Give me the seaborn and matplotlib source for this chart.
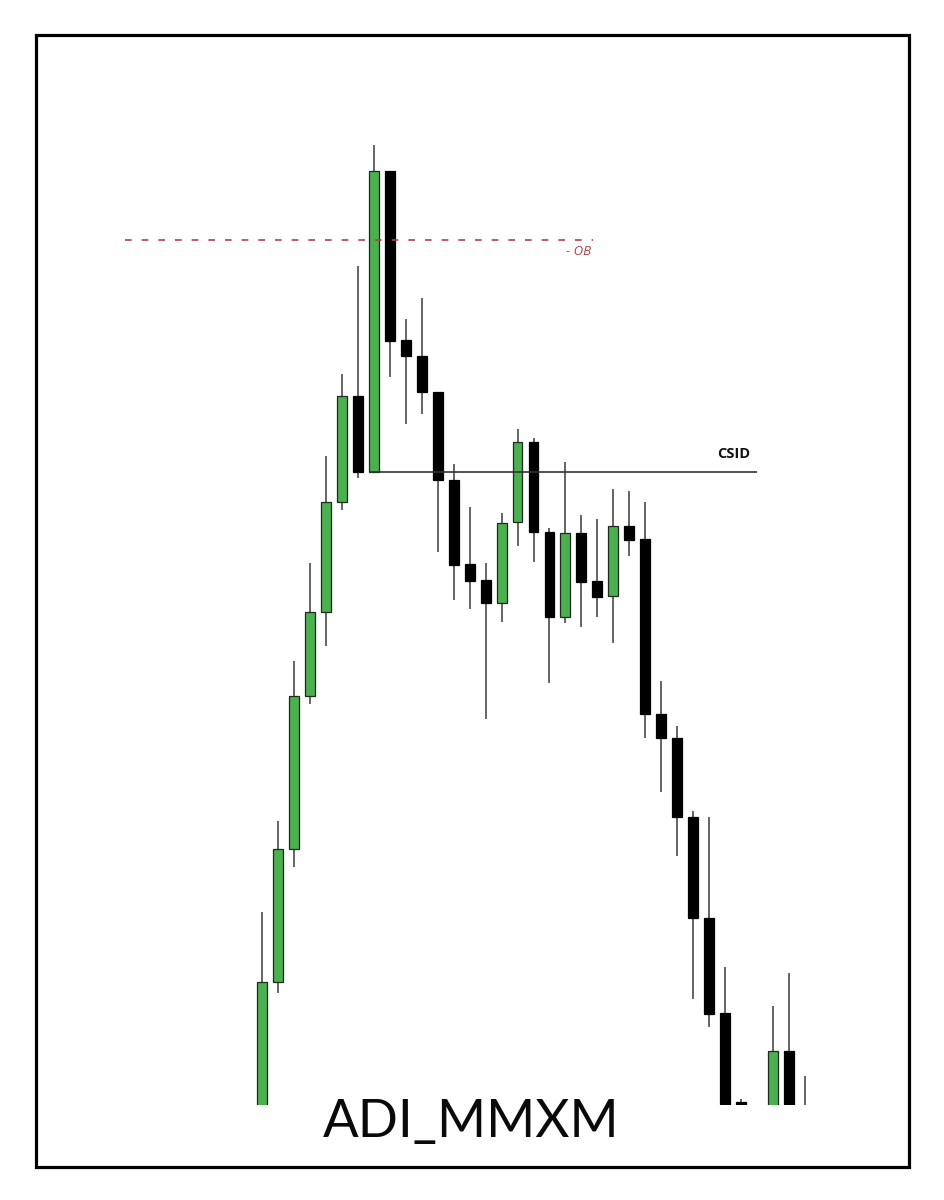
import matplotlib
matplotlib.use("Agg")
import matplotlib.pyplot as plt
import matplotlib.patches as mpatches
import seaborn as sns
import numpy as np

# candle prices (price units, higher = up)
opens = [7.5, 21.8, 35.1, 50.4, 58.8, 69.8, 80.4, 72.8, 102.9, 86.0,
         84.4, 80.8, 72.0, 63.6, 62.0, 59.7, 67.8, 75.8, 66.8, 58.3,
         66.7, 61.9, 60.4, 67.4, 66.1, 48.6, 46.2, 38.3, 28.2, 18.7,
         9.8, 8.0, 5.0, 14.9, 8.8]
highs = [28.8, 37.9, 53.9, 63.7, 74.4, 82.6, 93.4, 105.5, 102.9, 88.1,
         90.2, 80.8, 73.6, 69.3, 63.7, 68.7, 77.1, 76.2, 67.2, 73.8,
         68.5, 68.1, 71.1, 70.9, 69.8, 51.9, 47.4, 38.9, 38.3, 23.3,
         10.1, 8.5, 19.4, 22.7, 12.4]
lows = [6.5, 20.7, 33.3, 49.6, 55.4, 69.0, 72.2, 72.8, 82.3, 77.6,
        78.6, 64.8, 60.0, 59.1, 48.1, 57.8, 65.4, 63.8, 51.7, 57.7,
        57.3, 58.3, 55.7, 64.4, 46.2, 40.8, 34.4, 20.1, 17.3, 9.5,
        7.5, 5.0, 4.0, 6.0, 6.0]
closes = [21.8, 35.1, 50.4, 58.8, 69.8, 80.4, 72.8, 102.9, 85.9, 84.4,
          80.8, 72.0, 63.5, 61.9, 59.7, 67.7, 75.8, 66.8, 58.3, 66.7,
          61.8, 60.3, 67.4, 66.0, 48.6, 46.2, 38.3, 28.2, 18.6, 9.6,
          8.8, 6.0, 14.9, 7.0, 6.5]

ob_level = 96.0
csid_level = 72.8
ob_span = (-8.6, 20.7)
csid_span = (6.69, 31.0)
title = "ADI_MMXM"

sns.set_theme(style="white")

fig = plt.figure(figsize=(9.45, 12), dpi=100)
ax = fig.add_axes([37 / 945, 95 / 1200, 871 / 945, 1070 / 1200])

idx = np.arange(len(opens))
o = np.array(opens)
c = np.array(closes)
up = c >= o
body_bottom = np.minimum(o, c)
body_h = np.abs(c - o)

ax.vlines(idx, lows, highs, color="#3a3a3a", linewidth=1.1, zorder=1)
ax.bar(idx[up], body_h[up], bottom=body_bottom[up], width=0.62,
       color="#4caf50", edgecolor="#1e2a1e", linewidth=0.9, zorder=2)
ax.bar(idx[~up], body_h[~up], bottom=body_bottom[~up], width=0.62,
       color="black", edgecolor="black", linewidth=0.9, zorder=2)

# order block and csid levels
ax.hlines(ob_level, ob_span[0], ob_span[1], color="#b0404c",
          linestyle=(0, (4, 6)), linewidth=1.2, zorder=3)
ax.text(ob_span[1] - 0.1, ob_level - 1.15, "- OB", color="#b0404c",
        fontsize=9.5, style="italic", family="Open Sans",
        ha="right", va="center")
ax.hlines(csid_level, csid_span[0], csid_span[1], color="#333333",
          linewidth=1.2, zorder=3)
ax.text(csid_span[1] - 0.45, csid_level + 1.05, "CSID", color="#111111",
        fontsize=10.5, fontweight="bold", family="Open Sans",
        ha="right", va="bottom")

ax.set_xlim(-14.09, 40.45)
ax.set_ylim(9.5, 116.5)
ax.axis("off")

fig.text(471 / 945, 1 - 1122 / 1200, title, fontsize=38, family="Lato",
         ha="center", va="center", color="#0a0a0a")

fig.patches.append(mpatches.Rectangle((36 / 945, 1 - 1166.5 / 1200),
                                      873 / 945, 1132 / 1200,
                                      transform=fig.transFigure, fill=False,
                                      edgecolor="black", linewidth=2.3))

fig.savefig("out.png", dpi=100, facecolor="white")
